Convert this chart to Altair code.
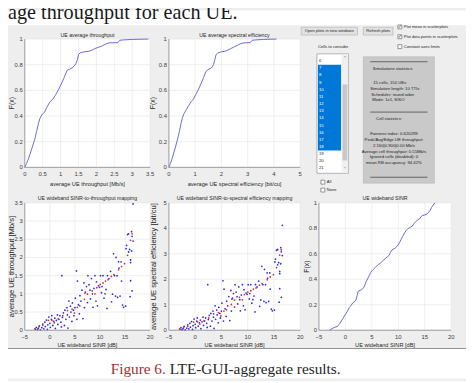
import altair as alt
import pandas as pd

# ---------------- data ----------------
thr_x = [0, 0.05, 0.12, 0.2, 0.28, 0.33, 0.38, 0.42, 0.48, 0.55,
         0.62, 0.7, 0.78, 0.85, 0.95, 1.02, 1.1, 1.18, 1.25, 1.32,
         1.38, 1.43, 1.47, 1.5, 1.55, 1.65, 1.8, 1.88, 1.95, 2.05,
         2.15, 2.25, 2.35, 2.6, 2.65, 2.75, 3.0, 3.45]
thr_f = [0, .03, .08, .15, .22, .28, .34, .38, .41, .43,
         .47, .51, .53, .56, .61, .65, .7, .755, .765, .775,
         .79, .81, .84, .88, .893, .9, .905, .915, .925, .935,
         .945, .96, .97, .972, .99, .993, .997, 1.0]

se_x = [0, 0.06, 0.14, 0.24, 0.33, 0.4, 0.46, 0.52, 0.58, 0.66,
        0.75, 0.84, 0.93, 1.03, 1.13, 1.22, 1.32, 1.42, 1.52, 1.62,
        1.7, 1.75, 1.8, 1.86, 1.98, 2.15, 2.25, 2.35, 2.45, 2.6,
        2.75, 2.85, 3.1, 3.17, 3.3, 3.6, 4.1]
se_f = [0, .03, .08, .15, .22, .28, .34, .39, .42, .45,
        .48, .51, .53, .57, .61, .65, .7, .75, .765, .775,
        .8, .84, .88, .89, .9, .905, .915, .925, .935, .95,
        .965, .97, .972, .99, .993, .997, 1.0]

sinr_x = [-3, -2.2, -1.5, -1.1, -0.5, 0, 0.4, 0.75, 1.0, 1.4,
          2.0, 2.2, 2.4, 3.1, 3.5, 3.9, 4.4, 4.8, 5.2, 5.7,
          6.2, 6.7, 7.2, 7.6, 8.2, 8.5, 8.8, 9.4, 9.8, 10.2,
          10.5, 10.8, 11.2, 11.6, 12.1, 12.6, 13.0, 13.5, 14.0, 14.5,
          15.0, 15.5, 16.0, 16.3, 16.9]
sinr_f = [0, .02, .03, .05, .09, .125, .15, .18, .19, .215,
          .235, .27, .305, .32, .335, .38, .42, .455, .475, .495,
          .515, .53, .55, .565, .585, .61, .63, .645, .66, .685,
          .71, .735, .765, .79, .805, .815, .84, .86, .875, .9,
          .905, .915, .94, .965, 1.0]

ue_sinr = [-2.9, -2.7, -2.5, -2.3, -2.1, -1.9, -1.6, -1.4, -1.2, -1.0,
           -0.9, -0.7, -0.5, -0.4, -0.2, 0.0, 0.1, 0.3, 0.4, 0.6,
           0.8, 1.0, 1.1, 1.3, 1.5, 1.6, 1.8, 2.0, 2.2, 2.3,
           2.4, 2.5, 2.7, 2.9, 3.0, 3.2, 3.4, 3.5, 3.6, 3.8,
           3.9, 4.1, 4.2, 4.4, 4.5, 4.7, 4.8, 5.0, 5.1, 5.3,
           5.4, 5.5, 5.7, 5.9, 6.0, 6.2, 6.4, 6.6, 6.8, 6.9,
           7.1, 7.3, 7.5, 7.6, 7.8, 8.0, 8.1, 8.3, 8.5, 8.6,
           8.8, 9.0, 9.2, 9.3, 9.5, 9.7, 9.9, 10.1, 10.3, 10.4,
           10.6, 10.8, 11.0, 11.2, 11.4, 11.5, 11.8, 12.1, 12.3, 12.5,
           12.7, 12.9, 13.1, 13.2, 13.4, 13.5, 13.7, 13.8, 14.0, 14.2,
           14.3, 14.5, 14.7, 15.1, 15.2, 15.3, 15.5, 15.7, 15.7, 15.9,
           16.0, 16.1, 16.1, 16.1, 16.3, 16.3, 16.4, 16.4, 16.6, 16.6]
ue_thr = [0.03, 0.08, 0.02, 0.05, 0.12, 0.01, 0.07, 0.17, 0.04, 0.22,
          0.10, 0.28, 0.02, 0.15, 0.36, 0.19, 0.08, 0.30, 0.40, 0.13,
          0.24, 0.33, 0.05, 0.27, 0.42, 0.16, 0.30, 0.40, 0.22, 0.09,
          1.50, 0.35, 0.48, 0.13, 0.55, 0.30, 0.62, 0.42, 0.06, 0.80,
          0.36, 0.66, 0.50, 0.24, 0.75, 0.55, 0.40, 0.62, 0.88, 1.63,
          0.30, 1.35, 0.70, 0.45, 0.95, 0.80, 1.10, 0.32, 1.30, 0.62,
          1.05, 1.20, 0.76, 1.50, 1.25, 1.10, 0.86, 1.42, 1.00, 0.63,
          1.15, 1.50, 0.80, 1.33, 0.67, 1.22, 1.18, 1.50, 1.03, 1.20,
          1.50, 0.88, 1.00, 1.12, 0.60, 1.50, 1.42, 1.62, 0.78, 0.99,
          2.10, 1.50, 0.94, 2.00, 1.50, 0.90, 1.88, 1.71, 0.94, 1.88,
          1.35, 0.69, 0.63, 0.66, 2.24, 2.33, 2.63, 2.15, 2.65, 2.22,
          0.92, 1.93, 1.36, 1.86, 2.18, 2.71, 2.58, 1.08, 3.47, 2.45]
ue_se = [0.04, 0.10, 0.02, 0.06, 0.15, 0.01, 0.08, 0.21, 0.05, 0.27,
         0.12, 0.34, 0.03, 0.18, 0.44, 0.23, 0.10, 0.36, 0.48, 0.16,
         0.29, 0.40, 0.06, 0.33, 0.51, 0.19, 0.36, 0.48, 0.27, 0.11,
         1.79, 0.42, 0.58, 0.16, 0.66, 0.36, 0.75, 0.51, 0.07, 0.96,
         0.43, 0.79, 0.60, 0.29, 0.90, 0.66, 0.48, 0.75, 1.06, 1.94,
         0.36, 1.61, 0.84, 0.54, 1.14, 0.96, 1.32, 0.38, 1.56, 0.75,
         1.26, 1.44, 0.91, 1.79, 1.50, 1.32, 1.03, 1.70, 1.20, 0.76,
         1.38, 1.79, 0.96, 1.59, 0.80, 1.46, 1.41, 1.79, 1.23, 1.44,
         1.79, 1.06, 1.20, 1.34, 0.72, 1.79, 1.70, 1.93, 0.94, 1.19,
         2.51, 1.79, 1.13, 2.39, 1.79, 1.08, 2.25, 2.04, 1.13, 2.25,
         1.61, 0.83, 0.76, 0.79, 2.68, 2.79, 3.14, 2.57, 3.17, 2.65,
         1.10, 2.31, 1.63, 2.22, 2.61, 3.24, 3.08, 1.29, 4.12, 2.93]

mean_sinr = [-2.96, -2.2, -1.42, -0.31, 0.43, 0.9, 1.66, 2.59, 3.51, 4.43,
             4.9, 5.48, 5.97, 6.9, 7.0, 7.5, 8.44, 9.0, 9.36, 10.04,
             10.6, 11.1, 11.6, 12.25, 12.75, 13.7, 14.3, 14.9, 15.5, 16.1,
             16.4]
mean_thr = [0.045, 0.09, 0.135, 0.27, 0.27, 0.20, 0.31, 0.40, 0.54, 0.58,
            0.47, 0.63, 0.67, 0.85, 1.02, 0.99, 1.08, 1.00, 1.17, 1.26,
            1.30, 1.35, 1.39, 1.48, 1.53, 1.66, 1.75, 1.83, 2.06, 2.47,
            2.65]
mean_se = [0.05, 0.11, 0.16, 0.32, 0.33, 0.24, 0.37, 0.48, 0.64, 0.69,
           0.56, 0.75, 0.80, 1.01, 1.22, 1.18, 1.29, 1.19, 1.40, 1.50,
           1.55, 1.61, 1.66, 1.77, 1.83, 1.98, 2.09, 2.18, 2.46, 2.95,
           3.16]

heading = "age throughput for each UE."
caption_fig = "Figure 6."
caption_rest = "LTE-GUI-aggregate results."
list_items = [str(i) for i in range(6, 22)]
selected_items = [str(i) for i in range(7, 19)]
sim_stats = ["15 cells, 150 UEs", "Simulation length: 10 TTIs",
             "Scheduler: round robin", "Mode: 1x1, SISO"]
cell_stats = ["Fairness index: 0.620299", "Peak/Avg/Edge UE throughput:",
              "2.160|0.900|0.00 Mb/s", "Average cell throughput: 0.55Mb/s",
              "Ignored cells (disabled): 0", "mean RB occupancy: 94.42%"]
checkboxes = [("Plot mean in scatterplots", True),
              ("Plot data points in scatterplots", True),
              ("Constant axes limits", False)]

# ---------------- style ----------------
W, H = 464, 373
FONT = "Liberation Sans"
SERIF = "Liberation Serif"
GUI_BG = "#eeeeee"
LINE = "#5a5ad6"
BLUE = "#2d2de0"
RED = "#de2c2c"
GRID = "#e3e3e3"
AXC = "#8a8a8a"
LABC = "#404040"

one = pd.DataFrame({"v": [0]})


def g_rect(x1, y1, x2, y2, fill, stroke="transparent", sw=0.6):
    return alt.Chart(one).mark_rect(fill=fill, stroke=stroke, strokeWidth=sw).encode(
        x=alt.value(x1), x2=alt.value(x2), y=alt.value(y1), y2=alt.value(y2))


def g_text(x, y, s, size=4.3, align="left", color="#1e1e1e", font=FONT,
           baseline="middle", angle=0):
    return alt.Chart(one).mark_text(align=align, baseline=baseline, fontSize=size,
                                    font=font, color=color, angle=angle).encode(
        x=alt.value(x), y=alt.value(y), text=alt.value(s))


def g_rule(x1, x2, y, color, sw):
    return alt.Chart(one).mark_rule(color=color, strokeWidth=sw).encode(
        x=alt.value(x1), x2=alt.value(x2), y=alt.value(y))


def g_vrule(x, y1, y2, color, sw):
    return alt.Chart(one).mark_rule(color=color, strokeWidth=sw).encode(
        x=alt.value(x), y=alt.value(y1), y2=alt.value(y2))


def panel(box, xdom, ydom, xt, yt, xtitle, ytitle, ytsize, tx, title, series,
          lab_dy=7, tit_dy=16.5):
    x0, y0, x1, y1 = box
    xs = alt.Scale(domain=xdom, range=[x0, x1], nice=False, zero=False)
    ys = alt.Scale(domain=ydom, range=[y1, y0], nice=False, zero=False)
    xtick = pd.DataFrame({"t": xt})
    ytick = pd.DataFrame({"t": yt})
    layers = [
        g_rect(x0, y0, x1, y1, "white"),
        alt.Chart(xtick).mark_rule(color=GRID, strokeWidth=0.6).encode(
            x=alt.X("t:Q", scale=xs, axis=None), y=alt.value(y0), y2=alt.value(y1)),
        alt.Chart(ytick).mark_rule(color=GRID, strokeWidth=0.6).encode(
            y=alt.Y("t:Q", scale=ys, axis=None), x=alt.value(x0), x2=alt.value(x1)),
    ]
    for df, kind, kw in series:
        base = alt.Chart(df)
        mk = base.mark_line(**kw) if kind == "line" else base.mark_circle(**kw)
        layers.append(mk.encode(
            x=alt.X("a:Q", scale=xs, axis=None),
            y=alt.Y("b:Q", scale=ys, axis=None)))
    layers += [
        g_rule(x0, x1, y1, AXC, 0.8),
        g_vrule(x0, y0, y1, AXC, 0.8),
        alt.Chart(xtick).mark_text(fontSize=6, font=FONT, color=LABC, align="center",
                                   baseline="middle").encode(
            x=alt.X("t:Q", scale=xs, axis=None), y=alt.value(y1 + lab_dy),
            text=alt.Text("t:Q", format="~g")),
        alt.Chart(ytick).mark_text(fontSize=6, font=FONT, color=LABC, align="right",
                                   baseline="middle").encode(
            y=alt.Y("t:Q", scale=ys, axis=None), x=alt.value(x0 - 2),
            text=alt.Text("t:Q", format="~g")),
        g_text((x0 + x1) / 2, y1 + tit_dy, xtitle, size=5.7, align="center",
               color="#262626"),
        g_text(x0 + tx, (y0 + y1) / 2, ytitle, size=ytsize, align="center",
               color="#262626", baseline="alphabetic", angle=270),
        g_text((x0 + x1) / 2, y0 - 4.5, title, size=5.3, align="center",
               color="#262626"),
    ]
    return alt.layer(*layers)


line_kw = dict(color=LINE, strokeWidth=0.9)
blue_kw = dict(size=3.2, color=BLUE, opacity=1)
red_kw = dict(size=3.2, color=RED, opacity=1)

p1 = panel((17, 29, 144, 159), [0, 3.5], [0, 1], [0, 0.5, 1, 1.5, 2, 2.5, 3, 3.5],
           [0, 0.2, 0.4, 0.6, 0.8, 1], "average UE throughput [Mb/s]", "F(x)", 7, -10.5,
           "UE average throughput",
           [(pd.DataFrame({"a": thr_x, "b": thr_f}), "line", line_kw)])
p2 = panel((163, 29, 296, 159), [0, 5], [0, 1], [0, 1, 2, 3, 4, 5],
           [0, 0.2, 0.4, 0.6, 0.8, 1], "average UE spectral efficiency [bit/cu]", "F(x)",
           7, -14, "UE average spectral efficiency",
           [(pd.DataFrame({"a": se_x, "b": se_f}), "line", line_kw)])
p4 = panel((17, 195, 144, 324), [-5, 20], [0, 3.5], [-5, 0, 5, 10, 15, 20],
           [0, 0.5, 1, 1.5, 2, 2.5, 3, 3.5], "UE wideband SINR [dB]",
           "average UE throughput [Mb/s]", 7.7, -10.5,
           "UE wideband SINR-to-throughput mapping",
           [(pd.DataFrame({"a": ue_sinr, "b": ue_thr}), "circle", blue_kw),
            (pd.DataFrame({"a": mean_sinr, "b": mean_thr}), "circle", red_kw)],
           lab_dy=6.8, tit_dy=15.5)
p5 = panel((163, 195, 296, 324), [-5, 20], [0, 5], [-5, 0, 5, 10, 15, 20],
           [0, 1, 2, 3, 4, 5], "UE wideband SINR [dB]",
           "average UE spectral efficiency [bit/cu]", 7.7, -13.5,
           "UE wideband SINR-to-spectral efficiency mapping",
           [(pd.DataFrame({"a": ue_sinr, "b": ue_se}), "circle", blue_kw),
            (pd.DataFrame({"a": mean_sinr, "b": mean_se}), "circle", red_kw)],
           lab_dy=6.8, tit_dy=15.5)
p6 = panel((315, 195, 449, 324), [-5, 20], [0, 1], [-5, 0, 5, 10, 15, 20],
           [0, 0.2, 0.4, 0.6, 0.8, 1], "UE wideband SINR [dB]", "F(x)", 7, -10.5,
           "UE wideband SINR",
           [(pd.DataFrame({"a": sinr_x, "b": sinr_f}), "line", line_kw)],
           lab_dy=6.8, tit_dy=15.5)

# ---------------- GUI widgets (pixel layout) ----------------
GX, GY = 297, 29
gui = []


def R(x1, y1, x2, y2, fill, stroke="transparent", sw=0.6):
    gui.append(g_rect(GX + x1, GY + y1, GX + x2, GY + y2, fill, stroke, sw))


def T(x, y, s, size=4.3, align="left", color="#1e1e1e", font=FONT):
    gui.append(g_text(GX + x, GY + y, s, size, align, color, font))


def L(x1, x2, y, color="#4a4a4a", sw=0.8):
    gui.append(g_rule(GX + x1, GX + x2, GY + y, color, sw))


def checkbox(x, y, label, checked):
    R(x, y - 2, x + 4, y + 2, "white", "#333333", 0.5)
    T(x + 6, y, label, size=4.1)
    if checked:
        T(x + 2, y, "\u2713", size=4.5, align="center", font="DejaVu Sans",
          color="#111111")


R(0, -12, 57, -4, "#e1e1e1", "#adadad")
T(28.5, -8, "Open plots in new windows", size=4.1, align="center")
R(63, -12, 93, -4, "#e1e1e1", "#adadad")
T(78, -8, "Refresh plots", size=4.1, align="center")
for i, (lab, chk) in enumerate(checkboxes):
    checkbox(98, -12.3 + 10 * i, lab, chk)
T(32.5, 8, "Cells to consider", size=4.2, align="center")
R(16, 15, 48, 136, "white", "#828790")
R(17, 26, 40.5, 113, "#0078d7")
R(41, 15.5, 47.6, 135.5, "#f0f0f0")
R(41.8, 46, 46.8, 123, "#c8c8c8")
T(44.3, 19.5, "\u02c4", size=5, align="center", font="DejaVu Sans", color="#606060")
T(44.3, 132, "\u02c5", size=5, align="center", font="DejaVu Sans", color="#606060")
for i, it in enumerate(list_items):
    T(18, 22.4 + 7.25 * i, it, size=4.3,
      color="white" if it in selected_items else "#1e1e1e")
checkbox(20, 145, "All", False)
checkbox(20, 153, "None", False)
R(63, 18, 135, 146, "#c9c9c9", "#b8b8b8")
L(70, 128, 23)
L(70, 128, 74)
L(70, 128, 140)
T(93, 30, "Simulations statistics:", align="center")
T(89, 81, "Cell statistics:", align="center")
for i, (s, xx) in enumerate(zip(sim_stats, [73, 70, 71, 72])):
    T(xx, 45 + 5.7 * i, s)
for i, s in enumerate(cell_stats):
    T(94, 96 + 6 * i, s, align="center")

# ---------------- heading and caption ----------------
page = [
    g_rect(0, 0, W, 15, "white"),
    g_text(0, 9, heading, size=20.5, font=SERIF, color="#1a1a1a", baseline="alphabetic"),
    g_rect(0, 342, W, H, "white"),
    g_rule(0, W, 342.5, "#8f8f8f", 1),
    g_text(104, 368, caption_fig, size=15.5, font=SERIF, color="#a3302f",
           baseline="alphabetic"),
    g_text(163.8, 368, caption_rest, size=15.5, font=SERIF, color="#262626",
           baseline="alphabetic"),
]

chart = alt.layer(*page, *gui, p1, p2, p4, p5, p6).resolve_scale(
    x="independent", y="independent"
).properties(
    width=W, height=H, padding=0, background=GUI_BG,
    autosize=alt.AutoSizeParams(type="none"),
).configure_view(stroke="transparent")

chart.save("out.html", embed_options={"renderer": "svg", "actions": False})
